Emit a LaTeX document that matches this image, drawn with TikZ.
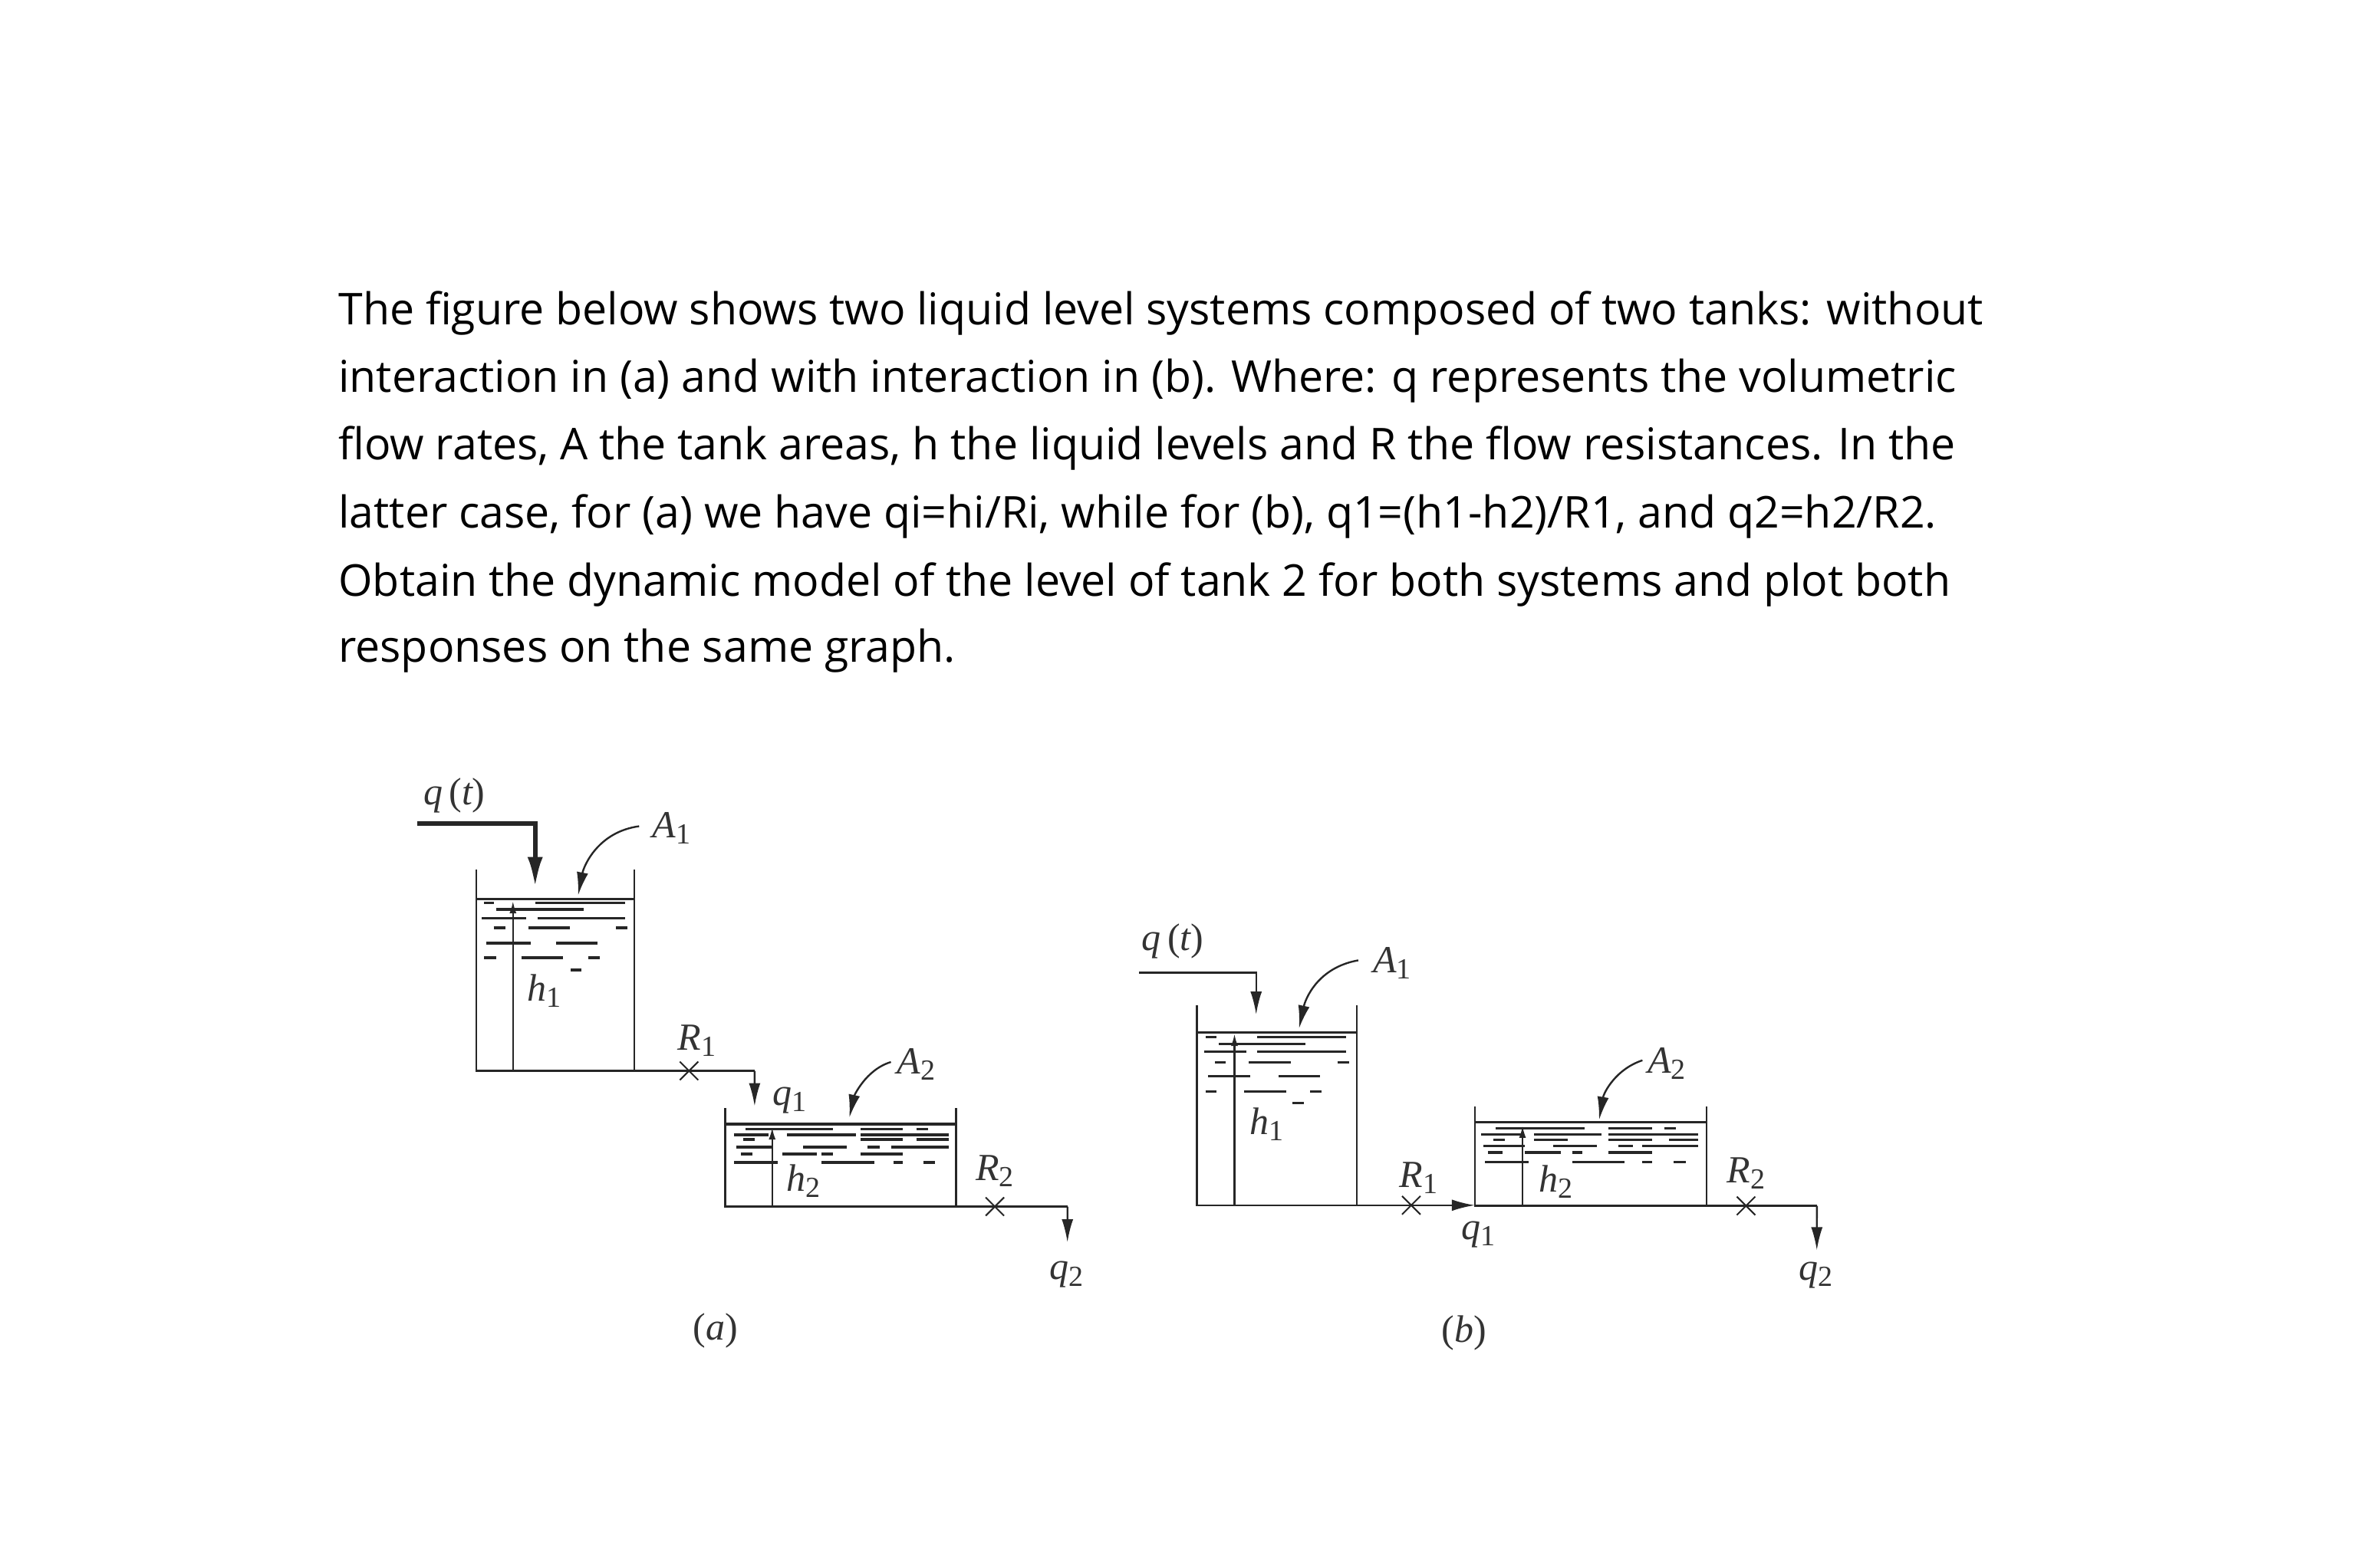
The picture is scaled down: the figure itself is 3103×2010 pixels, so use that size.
\documentclass[tikz,border=0pt]{standalone}
\usepackage{fontspec}
\setmainfont{Liberation Serif}
\newfontfamily\bodyfont{Open Sans}
\usetikzlibrary{arrows.meta,shapes.misc}
\newcommand{\lb}[2]{{\itshape #1}\raisebox{-0.35ex}{\fontsize{19}{19}\selectfont #2}}
\tikzset{
  wall/.style={line width=1.2pt,draw=black!85},
  liq/.style={line width=1.6pt,draw=black!85},
  lab/.style={font=\fontsize{25}{25}\selectfont,text=black!80,inner sep=0pt},
  para/.style={font=\bodyfont\fontsize{28.6}{32}\selectfont,anchor=west,inner sep=0pt},
  xm/.style={cross out,draw=black!85,line width=1pt,minimum size=11pt,inner sep=0pt},
  arr/.style={-{Latex[length=15pt,width=7.5pt]}},
  bigarr/.style={-{Latex[length=20pt,width=10pt]}},
  harr/.style={-{Latex[length=8pt,width=4.5pt]}},
}
\begin{document}
\begin{tikzpicture}[x=0.5pt,y=-0.5pt]
\useasboundingbox (0,0) rectangle (3103,2010);
\fill[white] (0,0) rectangle (3103,2010);
\node[para] (l1) at (441,408) {The figure below shows two liquid level systems composed of two tanks: without};
\node[para] (l2) at (441,497) {interaction in (a) and with interaction in (b). Where: q represents the volumetric};
\node[para] (l3) at (441,584) {flow rates, A the tank areas, h the liquid levels and R the flow resistances. In the};
\node[para] (l4) at (441,673) {latter case, for (a) we have qi=hi/Ri, while for (b), q1=(h1-h2)/R1, and q2=h2/R2.};
\node[para] (l5) at (441,762) {Obtain the dynamic model of the level of tank 2 for both systems and plot both};
\node[para] (l6) at (441,849) {responses on the same graph.};

% ---------------- (a)
\begin{scope}[shift={(520,1000)},xscale=0.6024,yscale=0.5]
\node[lab] (aqt) at (120,75) {{\itshape q}\,({\itshape t})};
\draw[line width=3pt,draw=black!85,bigarr] (40,148) -- (295,148) -- (295,315);
\draw[wall] (168,268) -- (168,793) -- (510,793) -- (510,268);
\draw[liq] (168,345) -- (510,345);
\foreach \y/\a/\b in {355/185/205,355/295/490,372/210/400,395/180/275,395/300/490,420/205/230,420/280/370,420/470/495,460/190/285,460/340/430,498/185/210,498/265/355,498/410/435,530/372/395}
  \draw[liq] (\a,\y) -- (\b,\y);
\draw[wall,harr] (247,793) -- (247,350);
\node[lab] (ah1) at (315,585) {\lb{h}{1}};
\node[lab] (aA1) at (590,160) {\lb{A}{1}};
\draw[wall,arr] (520,155) .. controls (430,170) and (400,260) .. (388,335);
\draw[wall] (510,793) -- (770,793) coordinate (ac1);
\draw[wall,arr] (ac1) -- (770,885);
\node[xm] (aR1x) at (628,793) {};
\node[lab] (aR1) at (645,715) {\lb{R}{1}};
\node[lab] (aq1) at (845,870) {\lb{q}{1}};
\draw[wall] (706,890) -- (706,1147) -- (1206,1147) -- (1206,890);
\draw[liq] (706,932) -- (1206,932);
\foreach \y/\a/\b in {945/750/940,945/1000/1090,945/1120/1145,960/725/800,960/840/990,960/1000/1190,972/745/770,972/1000/1090,972/1120/1190,992/730/810,992/875/970,992/1015/1040,992/1065/1190,1010/740/765,1010/830/905,1010/915/940,1010/1000/1090,1032/725/820,1032/915/1030,1032/1070/1090,1032/1135/1160}
  \draw[liq] (\a,\y) -- (\b,\y);
\draw[wall,harr] (808,1147) -- (808,940);
\node[lab] (ah2) at (875,1080) {\lb{h}{2}};
\node[lab] (aA2) at (1120,775) {\lb{A}{2}};
\draw[wall,arr] (1065,770) .. controls (1010,790) and (985,860) .. (975,915);
\draw[wall] (1206,1147) -- (1447,1147) coordinate (ac2);
\draw[wall,arr] (ac2) -- (1447,1240);
\node[xm] (aR2x) at (1290,1147) {};
\node[lab] (aR2) at (1290,1055) {\lb{R}{2}};
\node[lab] (aq2) at (1445,1325) {\lb{q}{2}};
\node[lab] (acap) at (685,1470) {({\itshape a})};
\end{scope}

% ---------------- (b)
\begin{scope}[shift={(1460,1190)},xscale=0.628,yscale=0.378]
\node[lab] (bqt) at (110,100) {{\itshape q}\,({\itshape t})};
\draw[wall,arr] (40,208) -- (283,208) -- (283,352);
\draw[wall] (160,320) -- (160,1010) -- (492,1010) -- (492,320);
\draw[liq] (160,413) -- (492,413);
\foreach \y/\a/\b in {430/178/200,430/285/470,453/205/385,480/175/262,480/285/470,518/198/220,518/268/355,518/452/476,565/183/270,565/330/415,618/178/200,618/258/345,618/395/418,658/358/382}
  \draw[liq] (\a,\y) -- (\b,\y);
\draw[wall,harr] (238,1010) -- (238,418);
\node[lab] (bh1) at (305,730) {\lb{h}{1}};
\node[lab] (bA1) at (565,175) {\lb{A}{1}};
\draw[wall,arr] (495,165) .. controls (410,190) and (385,300) .. (372,400);
\draw[wall,arr] (492,1010) -- (737,1010);
\node[xm] (bR1x) at (605,1010) {};
\node[lab] (bR1) at (620,915) {\lb{R}{1}};
\node[lab] (bq1) at (745,1110) {\lb{q}{1}};
\draw[wall] (737,670) -- (737,1012) -- (1218,1012) -- (1218,670);
\draw[liq] (737,723) -- (1218,723);
\foreach \y/\a/\b in {745/780/965,745/1015/1105,745/1130/1155,765/750/835,765/860/1000,765/1015/1200,785/775/800,785/860/930,785/1015/1105,785/1140/1200,805/755/840,805/900/990,805/1035/1065,805/1085/1200,828/765/795,828/840/915,828/940/960,828/1015/1105,860/758/848,860/940/1048,860/1085/1105,860/1150/1175}
  \draw[liq] (\a,\y) -- (\b,\y);
\draw[wall,harr] (836,1012) -- (836,735);
\node[lab] (bh2) at (905,930) {\lb{h}{2}};
\node[lab] (bA2) at (1135,520) {\lb{A}{2}};
\draw[wall,arr] (1085,510) .. controls (1030,540) and (1005,620) .. (995,715);
\draw[wall] (1218,1012) -- (1447,1012) coordinate (bc2);
\draw[wall,arr] (bc2) -- (1447,1165);
\node[xm] (bR2x) at (1300,1012) {};
\node[lab] (bR2) at (1300,900) {\lb{R}{2}};
\node[lab] (bq2) at (1445,1250) {\lb{q}{2}};
\node[lab] (bcap) at (715,1450) {({\itshape b})};
\end{scope}
\end{tikzpicture}
\end{document}
